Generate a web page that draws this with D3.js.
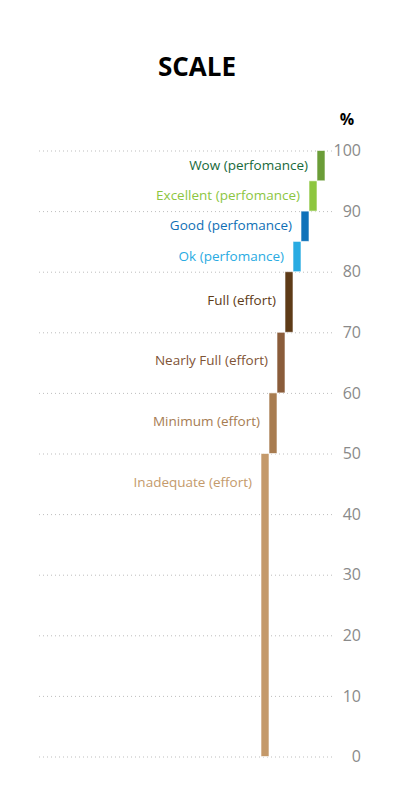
<!DOCTYPE html>
<html>
<head>
<meta charset="utf-8">
<script src="https://cdn.jsdelivr.net/npm/d3@7"></script>
<style>
  html, body { margin: 0; padding: 0; background: #fff; }
  svg { display: block; font-family: "Open Sans", "Noto Sans", sans-serif; }
</style>
</head>
<body>
<div id="root"></div>
<script>
// levels, bottom to top
const levels = [
  "Inadequate (effort)",
  "Minimum (effort)",
  "Nearly Full (effort)",
  "Full (effort)",
  "Ok (perfomance)",
  "Good (perfomance)",
  "Excellent (perfomance)",
  "Wow (perfomance)",
];
const starts = [0, 50, 60, 70, 80, 85, 90, 95];
const ends = [50, 60, 70, 80, 85, 90, 95, 100];
const barColors = ["#c4996a", "#a87c50", "#8a5c3a", "#5e3b17", "#29abe2", "#0f72b9", "#8dc63f", "#6b9d38"];
const labelColors = ["#c49a6c", "#a67c52", "#7f5436", "#5e3b17", "#29abe2", "#0f6fb5", "#8cc63f", "#17693a"];
const tickValues = [0, 10, 20, 30, 40, 50, 60, 70, 80, 90, 100];

const width = 398;
const height = 795;

const svg = d3
  .select("#root")
  .append("svg")
  .attr("width", width)
  .attr("height", height);

const y = d3.scaleLinear().domain([0, 100]).range([756.5, 150.5]);
const x = d3.scaleBand().domain(levels).range([261, 325]).padding(0);

// grid
svg
  .append("g")
  .attr("transform", "translate(332,0)")
  .call(d3.axisLeft(y).tickValues(tickValues).tickSize(295).tickFormat(""))
  .call((g) => g.select(".domain").remove())
  .call((g) =>
    g.selectAll(".tick line")
      .attr("stroke", "#bdbdbd")
      .attr("stroke-width", 1)
      .attr("stroke-dasharray", "1,3")
  );

// tick labels
svg
  .append("g")
  .attr("transform", "translate(361,0)")
  .call(d3.axisRight(y).tickValues(tickValues).tickSize(0).tickPadding(0))
  .call((g) => g.select(".domain").remove())
  .call((g) =>
    g.selectAll(".tick text")
      .attr("text-anchor", "end")
      .attr("fill", "#8a8a8a")
      .attr("font-size", 16)
      .attr("font-family", '"Open Sans", sans-serif')
  );

// bars
const rows = levels.map((name, i) => ({
  name,
  start: starts[i],
  end: ends[i],
  bar: barColors[i],
  label: labelColors[i],
}));

svg
  .append("g")
  .selectAll("rect")
  .data(rows)
  .join("rect")
  .attr("x", (d) => x(d.name))
  .attr("y", (d) => y(d.end))
  .attr("width", x.bandwidth())
  .attr("height", (d) => y(d.start) - y(d.end))
  .attr("fill", (d) => d.bar)
  .attr("stroke", "#fff")
  .attr("stroke-opacity", 0.6)
  .attr("stroke-width", 1);

// labels, centred on the segment but at most 29px below its top
svg
  .append("g")
  .selectAll("text")
  .data(rows)
  .join("text")
  .attr("x", (d) => x(d.name) - 9)
  .attr("y", (d) => y(d.end) + Math.min((y(d.start) - y(d.end)) / 2, 29) - 1)
  .attr("text-anchor", "end")
  .attr("dominant-baseline", "central")
  .attr("font-size", 13.5)
  .attr("fill", (d) => d.label)
  .text((d) => d.name);

// title
svg
  .append("text")
  .text("SCALE")
  .attr("x", 197)
  .attr("y", 76)
  .attr("text-anchor", "middle")
  .attr("font-size", 26)
  .attr("font-weight", "bold")
  .attr("fill", "#000");

svg
  .append("text")
  .text("%")
  .attr("x", 347)
  .attr("y", 125)
  .attr("text-anchor", "middle")
  .attr("font-size", 16)
  .attr("font-weight", "bold")
  .attr("fill", "#000");
</script>
</body>
</html>
